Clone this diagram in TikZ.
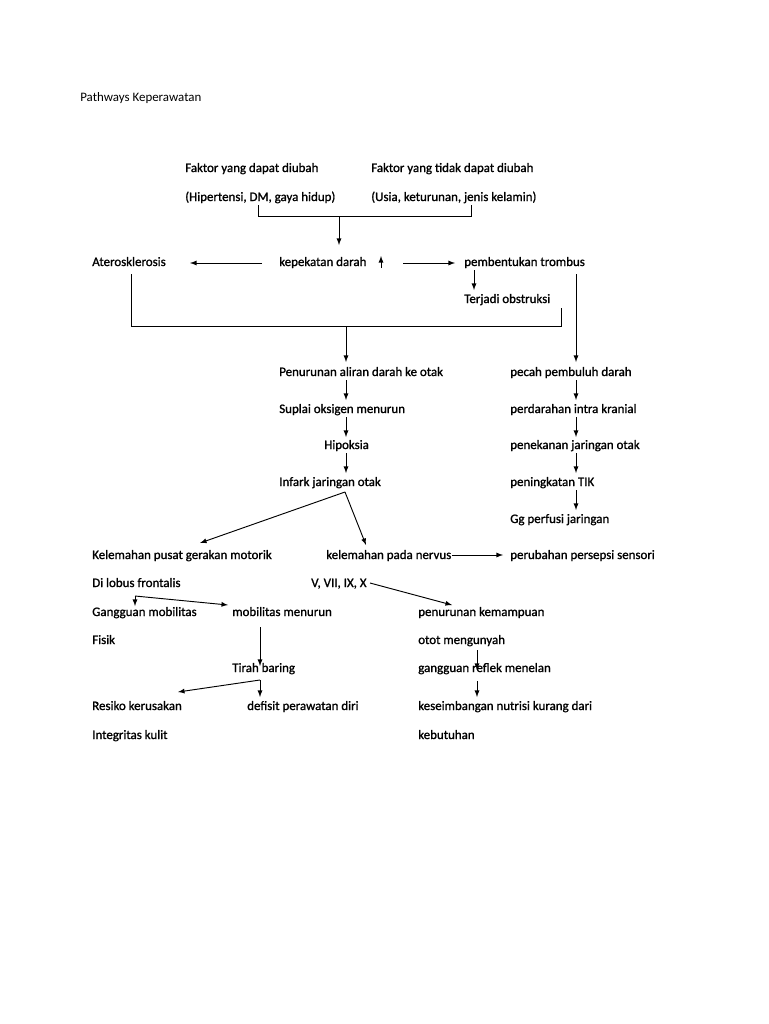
\documentclass[tikz,border=0pt]{standalone}
\usepackage{fontspec}
\setmainfont{Carlito}
\newfontfamily\thick[FakeBold=1.2]{Carlito}
\begin{document}
\begin{tikzpicture}[x=0.75pt,y=-0.75pt,
  t/.style={anchor=base west,inner sep=0pt,font=\thick\fontsize{9.7pt}{11pt}\selectfont},
  ar/.style={-latex,line width=0.7pt},
  ln/.style={line width=0.7pt}]
\useasboundingbox (0,0) rectangle (768,1024);
\begin{scope}[yshift=-4*0.75pt]
\node[t,font=\fontsize{9.7pt}{11pt}\selectfont] (title) at (80,98) {Pathways Keperawatan};
\node[t] (f1) at (185,168) {Faktor yang dapat diubah};
\node[t] (f2) at (371,168) {Faktor yang tidak dapat diubah};
\node[t] (h1) at (185,197) {(Hipertensi, DM, gaya hidup)};
\node[t] (h2) at (371,197) {(Usia, keturunan, jenis kelamin)};
\node[t] (ate) at (92,262) {Aterosklerosis};
\node[t] (kep) at (279,262) {kepekatan darah};
\node[t] (pem) at (464,262) {pembentukan trombus};
\node[t] (ter) at (464,299) {Terjadi obstruksi};
\node[t] (pen) at (279,372) {Penurunan aliran darah ke otak};
\node[t] (sup) at (279,409) {Suplai oksigen menurun};
\node[t] (hip) at (324,445) {Hipoksia};
\node[t] (inf) at (279,482) {Infark jaringan otak};
\node[t] (pec) at (510,372) {pecah pembuluh darah};
\node[t] (per) at (510,409) {perdarahan intra kranial};
\node[t] (pnk) at (510,445) {penekanan jaringan otak};
\node[t] (tik) at (510,482) {peningkatan TIK};
\node[t] (gg) at (510,519) {Gg perfusi jaringan};
\node[t] (kel) at (92,555) {Kelemahan pusat gerakan motorik};
\node[t] (ner) at (326,555) {kelemahan pada nervus};
\node[t] (pps) at (510,555) {perubahan persepsi sensori};
\node[t] (lob) at (92,583) {Di lobus frontalis};
\node[t] (vii) at (311,583) {V, VII, IX, X};
\node[t] (gmb) at (92,612) {Gangguan mobilitas};
\node[t] (mbm) at (232,612) {mobilitas menurun};
\node[t] (pkm) at (418,612) {penurunan kemampuan};
\node[t] (fis) at (92,640) {Fisik};
\node[t] (oto) at (418,640) {otot mengunyah};
\node[t] (tir) at (232,668) {Tirah baring};
\node[t] (grm) at (418,668) {gangguan reflek menelan};
\node[t] (res) at (92,706) {Resiko kerusakan};
\node[t] (def) at (247,706) {defisit perawatan diri};
\node[t] (kes) at (418,706) {keseimbangan nutrisi kurang dari};
\node[t] (int) at (92,735) {Integritas kulit};
\node[t] (keb) at (418,735) {kebutuhan};
\end{scope}
\draw[ar] (381,268) -- (381,256);
\draw[ln] (258,205) -- (258,216) -- (471,216) -- (471,205);
\coordinate (c1) at (339,216);
\draw[ar] (c1) -- (339,245);
\draw[ar] (262,263) -- (190,263);
\draw[ar] (403,263) -- (455,263);
\draw[ar] (474,270) -- (474,290);
\draw[ln] (131,274) -- (131,326) -- (561,326) -- (561,308);
\draw[ar] (346,326) -- (346,362);
\draw[ar] (576,274) -- (576,362);
\foreach \a/\b in {380/400,417/437,453/473}{\draw[ar] (346,\a) -- (346,\b);}
\foreach \a/\b in {380/400,417/437,453/473,490/510}{\draw[ar] (576,\a) -- (576,\b);}
\coordinate (fk) at (345,492);
\draw[ar] (fk) -- (200,543);
\draw[ar] (fk) -- (366,545);
\draw[ar] (452,555) -- (503,555);
\draw[ar] (135,596) -- (135,606);
\draw[ar] (135,596) -- (228,605);
\draw[ar] (370,583) -- (452,605);
\draw[ar] (260,627) -- (260,666);
\draw[ar] (477,650) -- (477,670);
\draw[ar] (477,681) -- (477,697);
\draw[ar] (260,680) -- (178,692);
\draw[ar] (260,680) -- (260,697);
\end{tikzpicture}
\end{document}
